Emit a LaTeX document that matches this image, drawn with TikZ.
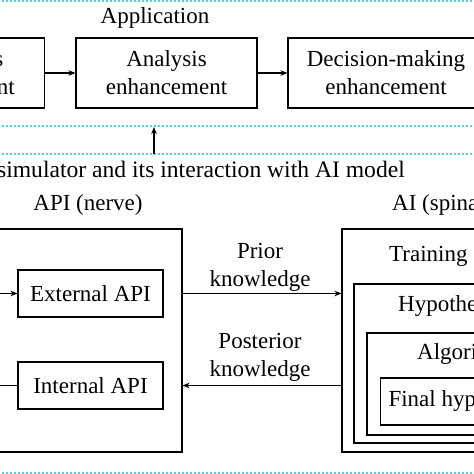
\documentclass[tikz,border=0pt]{standalone}
\usepackage{fontspec}
\setmainfont{Liberation Serif}
\usetikzlibrary{arrows.meta}
\definecolor{cSep}{RGB}{80,210,220}
\tikzset{
    blk/.style={draw, line width=1.1pt, align=center, inner sep=0pt},
    lbl/.style={inner sep=0pt, align=center},
    sep/.style={cSep, line width=1.2pt, dash pattern=on 2pt off 2pt},
    arr/.style={line width=1.1pt, -{Stealth[length=7pt,width=5.5pt]}}
}

\begin{document}
\begin{tikzpicture}[x=1pt, y=1pt, font=\fontsize{23}{28}\selectfont]
        \useasboundingbox (0,0) rectangle (474,474);
        \clip (0,0) rectangle (474,474);

        \draw[sep] (-10,473) -- (490,473);
        \draw[sep] (-10,348) -- (490,348);
        \draw[sep] (-10,320) -- (490,320);
        \draw[sep] (-10,1) -- (490,1);

        \node[lbl] (app) at (155,456) {Application};
        \node[blk, minimum width=181pt, minimum height=70pt] (aware) at (-46,401) {Awareness\\enhancement};
        \node[blk, minimum width=181pt, minimum height=70pt] (analysis) at (166.5,401) {Analysis\\enhancement};
        \node[blk, minimum width=196pt, minimum height=70pt] (decision) at (386,401) {Decision-making\\enhancement};
        \draw[arr] (aware) -- (analysis);
        \draw[arr] (analysis) -- (decision);

        \coordinate (up0) at (154,320);
        \coordinate (up1) at (154,347);
        \draw[arr] (up0) -- (up1);
        \node[lbl, anchor=east, font=\fontsize{23.6}{28}\selectfont] (sim) at (405,302) {Physical simulator and its interaction with AI model};

        \node[lbl] (apit) at (88,269) {API (nerve)};
        \node[blk, minimum width=222pt, minimum height=223pt] (api) at (71,133.5) {};
        \node[blk, minimum width=145pt, minimum height=47pt] (ext) at (90.5,180.5) {External API};
        \node[blk, minimum width=145pt, minimum height=47pt] (int) at (90.5,88.5) {Internal API};
        \coordinate (extin) at (-10,180.5);
        \coordinate (intout) at (-10,88.5);
        \draw[arr] (extin) -- (ext);
        \draw[line width=1.1pt] (int) -- (intout);

        \node[lbl, anchor=west] (ait) at (392,269) {AI (spinal cord)};
        \node[blk, minimum width=258pt, minimum height=223pt] (ai) at (471,133.5) {};
        \node[lbl, anchor=west] (train) at (389,218) {Training set};
        \node[blk, minimum width=234pt, minimum height=159pt] (hyp) at (471,110.5) {};
        \node[lbl, anchor=west] (hypt) at (398,168) {Hypothesis space};
        \node[blk, minimum width=208pt, minimum height=102pt] (alg) at (471,90) {};
        \node[lbl, anchor=west] (algt) at (417,120) {Algorithm};
        \node[blk, anchor=west, minimum height=47pt, inner xsep=8pt] (final) at (380,72.5) {Final hypothesis};

        \draw[arr] (api.east |- ext) -- (ai.west |- ext);
        \draw[arr] (ai.west |- int) -- (api.east |- int);
        \node[lbl] (prior) at (260,207) {Prior\\knowledge};
        \node[lbl] (post) at (260,117) {Posterior\\knowledge};
\end{tikzpicture}
\end{document}
